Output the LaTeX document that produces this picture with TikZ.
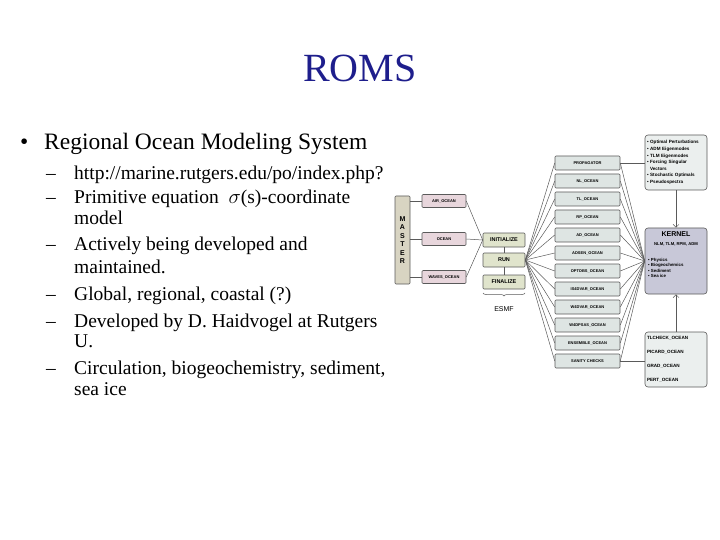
\documentclass[tikz,border=0pt]{standalone}
\usepackage{fontspec}
\setmainfont{Liberation Serif}
\newfontfamily\dsf{Liberation Sans}
\usetikzlibrary{decorations.pathreplacing,arrows.meta}
\definecolor{ttl}{RGB}{30,30,140}
\definecolor{mst}{RGB}{216,212,194}
\definecolor{pnk}{RGB}{232,214,220}
\definecolor{grn}{RGB}{224,228,204}
\definecolor{mid}{RGB}{222,229,227}
\definecolor{krn}{RGB}{200,200,216}
\definecolor{edg}{RGB}{90,90,90}
\begin{document}
\begin{tikzpicture}[x=1pt,y=-1pt,
 txt/.style={anchor=base west,inner sep=0pt,font=\fontsize{19.5}{21}\selectfont},
 bx/.style={draw=edg,line width=0.6pt,rounded corners=1pt,inner sep=0pt,font=\dsf\bfseries\fontsize{4}{5}\selectfont},
 pk/.style={bx,fill=pnk,minimum width=44pt,minimum height=13pt},
 gn/.style={bx,fill=grn,minimum width=42pt,minimum height=14pt,font=\dsf\bfseries\fontsize{5.5}{6}\selectfont},
 md/.style={bx,fill=mid,minimum width=65pt,minimum height=14pt},
 rb/.style={bx,fill=mid!60!white,rounded corners=3pt,align=left,inner xsep=2pt,inner ysep=2pt,font=\dsf\bfseries\fontsize{4.6}{6.6}\selectfont},
 ln/.style={draw=edg,line width=0.5pt}]
\useasboundingbox (0,0) rectangle (720,540);
\node[font=\fontsize{40}{44}\selectfont,text=ttl] (title) at (360,68) {ROMS};
\node[txt,font=\fontsize{23.5}{25}\selectfont] (b0) at (20,150) {•};
\node[txt,font=\fontsize{23.5}{25}\selectfont] (t0) at (44,150) {Regional Ocean Modeling System};
\foreach \n/\y/\d/\s in {1/180/1/{http://marine.rutgers.edu/po/index.php?},
 2/204/1/{Primitive equation \ $\sigma$(s)-coordinate},
 3/225/0/{model},
 4/251/1/{Actively being developed and},
 5/273/0/{maintained.},
 6/300/1/{Global, regional, coastal (?)},
 7/327/1/{Developed by D. Haidvogel at Rutgers},
 8/347/0/{U.},
 9/374/1/{Circulation, biogeochemistry, sediment,},
 10/395/0/{sea ice}}{
 \ifnum\d=1 \node[txt] (d\n) at (46,\y) {–};\fi
 \node[txt] (s\n) at (74,\y) {\s};
}
% diagram
\node[bx,fill=mst,minimum width=15pt,minimum height=88pt,align=center,font=\dsf\bfseries\fontsize{7}{8.5}\selectfont] (master) at (402.5,240) {M\\A\\S\\T\\E\\R};
\node[pk] (air) at (444,201) {AIR\_OCEAN};
\node[pk] (ocean) at (444,239) {OCEAN};
\node[pk] (waves) at (444,277) {WAVES\_OCEAN};
\node[gn] (init) at (504,240) {INITIALIZE};
\node[gn] (run) at (504,260) {RUN};
\node[gn] (fin) at (504,282) {FINALIZE};
\draw[ln,decorate,decoration={brace,mirror,amplitude=3pt}] (483,293) -- (525,293);
\node[font=\dsf\fontsize{7}{8}\selectfont] (esmf) at (504,309) {ESMF};
\foreach \n/\t [count=\i from 0] in {prop/PROPAGATOR,nl/NL\_OCEAN,tl/TL\_OCEAN,rp/RP\_OCEAN,ad/AD\_OCEAN,adsen/ADSEN\_OCEAN,optobs/OPTOBS\_OCEAN,is/IS4DVAR\_OCEAN,w4/W4DVAR\_OCEAN,wp/W4DPSAS\_OCEAN,ens/ENSEMBLE\_OCEAN,san/SANITY CHECKS}{
 \node[md] (\n) at (587.5,163+18*\i) {\t};
 \draw[ln] (run.east) -- (\n.west);
}
\node[rb,minimum width=62pt,minimum height=55pt,text width=58pt] (pert) at (676,162.5) {• Optimal Perturbations\\• ADM Eigenmodes\\• TLM Eigenmodes\\• Forcing Singular\\\ \ Vectors\\• Stochastic Optimals\\• Pseudospectra};
\node[bx,fill=krn,rounded corners=3pt,minimum width=62pt,minimum height=66pt] (kern) at (676,261) {};
\node[font=\dsf\bfseries\fontsize{7}{8}\selectfont] (kt) at (676,234) {KERNEL};
\node[font=\dsf\bfseries\fontsize{4.2}{5}\selectfont] (ks) at (676,244) {NLM, TLM, RPM, ADM};
\node[font=\dsf\bfseries\fontsize{4.4}{5.4}\selectfont,align=left,anchor=north west,inner sep=0pt] (kl) at (648,258) {• Physics\\• Biogeochemics\\• Sediment\\• Sea ice};
\node[rb,minimum width=62pt,minimum height=55pt,text width=58pt,font=\dsf\bfseries\fontsize{4.6}{14}\selectfont] (chk) at (676,359.5) {TLCHECK\_OCEAN\\PICARD\_OCEAN\\GRAD\_OCEAN\\PERT\_OCEAN};
\foreach \n in {prop,nl,tl,rp,ad,adsen,optobs,is,w4,wp,ens,san}{\draw[ln] (\n.east) -- (kern.west);}
\draw[ln] (prop.east) -- (pert.west |- prop.east);
\draw[ln] (san.east) -- (chk.west |- san.east);
\draw[ln,-{Straight Barb[length=3pt]}] (pert.south) -- (kern.north);
\draw[ln,-{Straight Barb[length=3pt]}] (chk.north) -- (kern.south);
\draw[ln] (master.east |- air) -- (air.west);
\draw[ln] (master.east |- ocean) -- (ocean.west);
\draw[ln] (master.east |- waves) -- (waves.west);
\draw[ln] (air.east) -- (init.west);
\draw[ln] (ocean.east) -- (init.west);
\draw[ln] (waves.east) -- (init.west);
\draw[ln] (init) -- (run);
\draw[ln] (run) -- (fin);
\end{tikzpicture}
\end{document}
